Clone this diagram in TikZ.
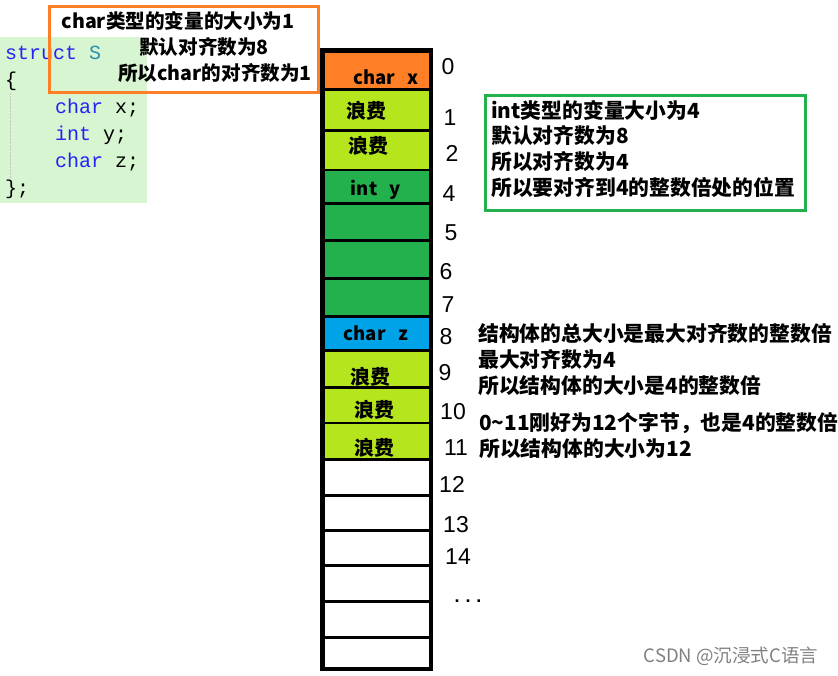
\documentclass[tikz,border=0pt]{standalone}
\usepackage{fontspec}
\newfontfamily\cjk{Noto Sans CJK SC}
\newfontfamily\numfont{Liberation Sans}
\newfontfamily\codefont{Liberation Mono}
\usetikzlibrary{positioning}
\definecolor{cxorange}{HTML}{FF7F27}
\definecolor{wastegreen}{HTML}{B5E61D}
\definecolor{intgreen}{HTML}{22B14C}
\definecolor{czblue}{HTML}{00A2E8}
\definecolor{codebg}{HTML}{D8F5D2}
\definecolor{kwblue}{HTML}{2323F5}
\definecolor{typeteal}{HTML}{2B91AF}

\begin{document}
\begin{tikzpicture}[
      x=1pt, y=-1pt,
      cell/.style={inner sep=0, minimum width=104pt, anchor=north west},
      celltxt/.style={inner sep=0, font=\cjk\bfseries\fontsize{20}{22}\selectfont},
      vartxt/.style={inner sep=0, font=\cjk\bfseries\fontsize{18.5}{20}\selectfont},
      idx/.style={inner sep=0, font=\numfont\fontsize{23}{25}\selectfont},
      code/.style={inner sep=0, anchor=base west, font=\codefont\fontsize{20}{24}\selectfont},
      note/.style={inner sep=0, align=left, font=\cjk\bfseries\fontsize{20.8}{26}\selectfont},
      xline/.style={inner sep=0, font=\cjk\bfseries\fontsize{19.6}{22}\selectfont}
    ]
    \useasboundingbox (0,0) rectangle (838,675);

    % source code
    \node[fill=codebg, inner sep=0, minimum width=147pt, minimum height=166pt,
          anchor=north west] (src) at (0,37) {};
    \draw[gray!45, densely dotted] (10,93) -- (10,178);
    \node[code, text=kwblue] (l1) at (5,59) {struct \textcolor{typeteal}{S}};
    \node[code] (l2) at (5,86) {\{};
    \node[code] (l3) at (55,113) {\textcolor{kwblue}{char} x;};
    \node[code] (l4) at (55,140) {\textcolor{kwblue}{int} y;};
    \node[code] (l5) at (55,167) {\textcolor{kwblue}{char} z;};
    \node[code] (l6) at (5,194) {\};};

    % note on char x
    \node[draw=cxorange, line width=3pt, inner sep=0, minimum width=269pt,
          minimum height=86pt, anchor=north west] (xnote) at (48,5) {};
    \node[xline] (xn1) at (178,21) {char类型的变量的大小为1};
    \node[xline] (xn2) at (204,47) {默认对齐数为8};
    \node[xline, anchor=east] (xn3) at (312,73) {所以char的对齐数为1};

    % memory column
    \node[fill=black, inner sep=0, minimum width=113pt, minimum height=623pt,
          anchor=north west] (mem) at (320,48) {};
    \node[cell, fill=cxorange, minimum height=35pt]  (b0)  at (324.5,53) {};
    \node[cell, fill=wastegreen, minimum height=38pt] (b1)  at (324.5,91) {};
    \node[cell, fill=wastegreen, minimum height=37pt] (b2)  at (324.5,132) {};
    \node[cell, fill=intgreen, minimum height=31pt]   (b4)  at (324.5,171) {};
    \node[cell, fill=intgreen, minimum height=34pt]   (b5)  at (324.5,205) {};
    \node[cell, fill=intgreen, minimum height=35pt]   (b6)  at (324.5,242) {};
    \node[cell, fill=intgreen, minimum height=35pt]   (b7)  at (324.5,280) {};
    \node[cell, fill=czblue, minimum height=31pt]     (b8)  at (324.5,318) {};
    \node[cell, fill=wastegreen, minimum height=34pt] (b9)  at (324.5,352) {};
    \node[cell, fill=wastegreen, minimum height=33pt] (b10) at (324.5,389) {};
    \node[cell, fill=wastegreen, minimum height=34pt] (b11) at (324.5,424) {};
    \node[cell, fill=white, minimum height=33pt] (b12) at (324.5,461) {};
    \node[cell, fill=white, minimum height=32pt] (b13) at (324.5,497) {};
    \node[cell, fill=white, minimum height=32pt] (b14) at (324.5,532) {};
    \node[cell, fill=white, minimum height=33pt] (b15) at (324.5,567) {};
    \node[cell, fill=white, minimum height=33pt] (b16) at (324.5,603) {};
    \node[cell, fill=white, minimum height=28pt] (b17) at (324.5,639) {};

    \node[vartxt] (t0)  at (386,77)  {char\ \ \ x};
    \node[celltxt] (t1)  at (366,111) {浪费};
    \node[celltxt] (t2)  at (368,146) {浪费};
    \node[vartxt] (t4)  at (376,190) {int\ \ \ y};
    \node[vartxt] (t8)  at (376,333) {char\ \ \ z};
    \node[celltxt] (t9)  at (370,377) {浪费};
    \node[celltxt] (t10) at (374,410) {浪费};
    \node[celltxt] (t11) at (374,448) {浪费};

    % offsets
    \node[idx] (n0)  at (448,67)  {0};
    \node[idx] (n1)  at (450,118) {1};
    \node[idx] (n2)  at (452,153) {2};
    \node[idx] (n4)  at (449,194) {4};
    \node[idx] (n5)  at (451,233) {5};
    \node[idx] (n6)  at (446,272) {6};
    \node[idx] (n7)  at (448,305) {7};
    \node[idx] (n8)  at (446,337) {8};
    \node[idx] (n9)  at (445,373) {9};
    \node[idx] (n10) at (453,412) {10};
    \node[idx] (n11) at (456,448) {11};
    \node[idx] (n12) at (452,484) {12};
    \node[idx] (n13) at (456,525) {13};
    \node[idx] (n14) at (458,557) {14};
    \node[idx, font=\numfont\bfseries\fontsize{18}{20}\selectfont] (ndots) at (468,601) {.\,\,.\,\,.};

    % note on int y
    \node[draw=intgreen, line width=3pt, inner sep=0, minimum width=320pt,
          minimum height=115pt, anchor=north west] (ynote) at (484,94) {};
    \node[note, anchor=north west, font=\cjk\bfseries\fontsize{20.8}{25.7}\selectfont] (yn) at (491,100)
      {int类型的变量大小为4\\默认对齐数为8\\所以对齐数为4\\所以要对齐到4的整数倍处的位置};

    % note on total size
    \node[note, anchor=north west] (sz1) at (478,323)
      {结构体的总大小是最大对齐数的整数倍\\最大对齐数为4\\所以结构体的大小是4的整数倍};
    \node[note, anchor=north west] (sz2) at (479,412)
      {0\textasciitilde11刚好为12个字节，也是4的整数倍\\所以结构体的大小为12};

    \node[inner sep=0, text=gray, font=\cjk\fontsize{18.5}{20}\selectfont] (mark) at (731,656) {CSDN @沉浸式C语言};
  \end{tikzpicture}
\end{document}
